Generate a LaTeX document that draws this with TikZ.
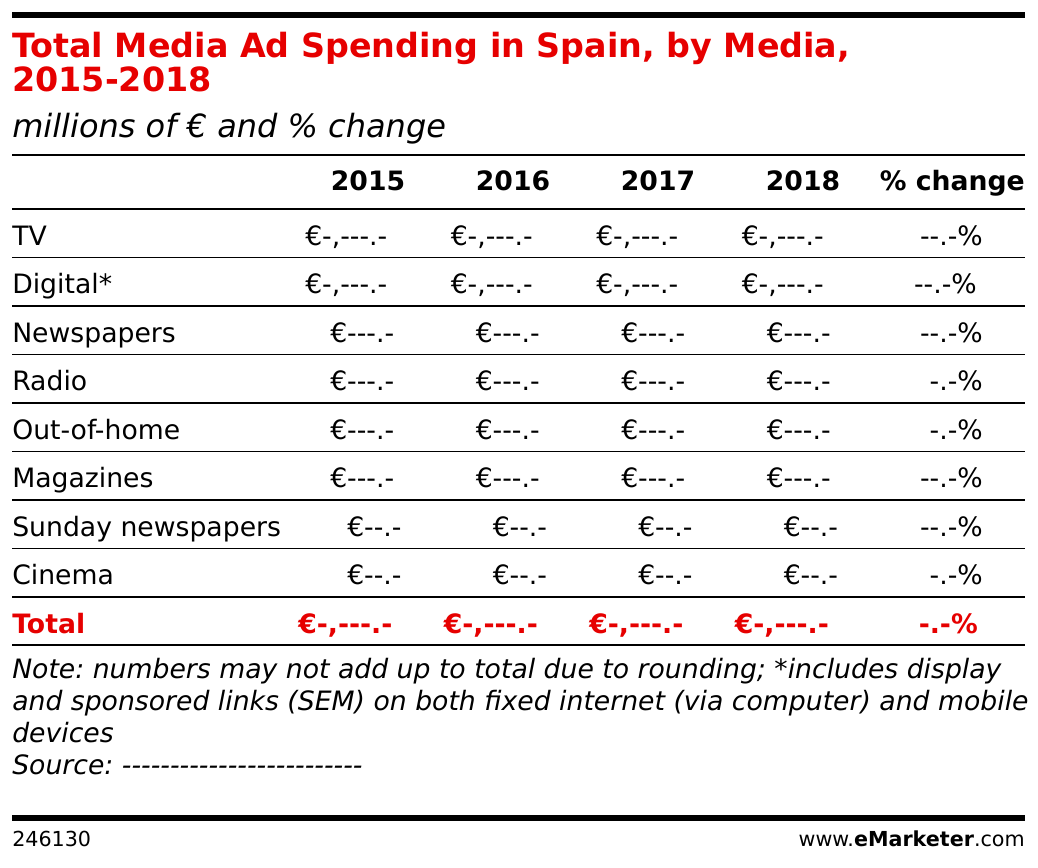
\documentclass[tikz,border=0pt]{standalone}
\usepackage{fontspec}
\setmainfont{DejaVu Sans}[Ligatures=TeXOff]
\frenchspacing
\definecolor{emred}{RGB}{230,0,0}
\tikzset{
  cell/.style={anchor=base west, inner sep=0pt, font=\fontsize{20}{24}\selectfont},
  pct/.style={anchor=base east, inner sep=0pt, font=\fontsize{20}{24}\selectfont},
  rowrule/.style={line width=1pt},
}
\begin{document}
\begin{tikzpicture}[x=0.75pt, y=-0.75pt]
  \useasboundingbox (0,0) rectangle (1038,867);
  % heading
  \draw[line width=4pt] (12,15) -- (1025,15);
  \node[cell, text=emred, font=\fontsize{25}{30}\selectfont\bfseries] (title1) at (12,58) {Total Media Ad Spending in Spain, by Media,};
  \node[cell, text=emred, font=\fontsize{25}{30}\selectfont\bfseries] (title2) at (12,92) {2015-2018};
  \node[cell, font=\fontsize{24}{28}\selectfont\itshape] (subtitle) at (12,137) {millions of € and \% change};
  \draw[rowrule] (12,155) -- (1025,155);
  % column heads
  \foreach \yr/\x in {2015/368, 2016/513, 2017/658, 2018/803}
    \node[cell, anchor=base, font=\fontsize{20}{24}\selectfont\bfseries] (head\yr) at (\x,190) {\yr};
  \node[pct, font=\fontsize{20}{24}\selectfont\bfseries] (headpct) at (1025,190) {\% change};
  \draw[rowrule] (12,209) -- (1025,209);
  % rows
  \foreach \name/\val/\vx/\pc/\px [count=\i] in {
      TV/€-{,}---.-/305/--.-\%/983,
      Digital*/€-{,}---.-/305/--.-\%/977,
      Newspapers/€---.-/330/--.-\%/983,
      Radio/€---.-/330/-.-\%/983,
      Out-of-home/€---.-/330/-.-\%/983,
      Magazines/€---.-/330/--.-\%/983,
      Sunday newspapers/€--.-/347/--.-\%/983,
      Cinema/€--.-/347/-.-\%/983} {
    \pgfmathsetmacro{\yb}{245+48.5*(\i-1)}
    \node[cell] (label\i) at (12,\yb) {\name};
    \foreach \c in {0,1,2,3}
      \node[cell] (val\i-\c) at (\vx+145.5*\c,\yb) {\val};
    \node[pct] (pct\i) at (\px,\yb) {\pc};
    \draw[rowrule] (12,\yb+12.5) -- (1025,\yb+12.5);
  }
  % total
  \node[cell, text=emred, font=\fontsize{20}{24}\selectfont\bfseries] (labeltotal) at (12,633) {Total};
  \foreach \c in {0,1,2,3}
    \node[cell, text=emred, font=\fontsize{20}{24}\selectfont\bfseries] (total\c) at (298+145.5*\c,633) {€-,---.-};
  \node[pct, text=emred, font=\fontsize{20}{24}\selectfont\bfseries] (pcttotal) at (978,633) {-.-\%};
  \draw[rowrule] (12,645) -- (1025,645);
  % notes
  \node[cell, font=\fontsize{20}{24}\selectfont\itshape] (note1) at (12,678) {Note: numbers may not add up to total due to rounding; *includes display};
  \node[cell, font=\fontsize{20}{24}\selectfont\itshape] (note2) at (12,710) {and sponsored links (SEM) on both fixed internet (via computer) and mobile};
  \node[cell, font=\fontsize{20}{24}\selectfont\itshape] (note3) at (12,742) {devices};
  \node[cell, font=\fontsize{20}{24}\selectfont\itshape] (source) at (12,774) {Source: -------------------------};
  % footer
  \draw[line width=4pt] (12,818) -- (1025,818);
  \node[cell, font=\fontsize{15.5}{20}\selectfont] (chartid) at (12,846) {246130};
  \node[pct, font=\fontsize{15.5}{20}\selectfont] (brand) at (1025,846) {www.\textbf{eMarketer}.com};
\end{tikzpicture}
\end{document}
